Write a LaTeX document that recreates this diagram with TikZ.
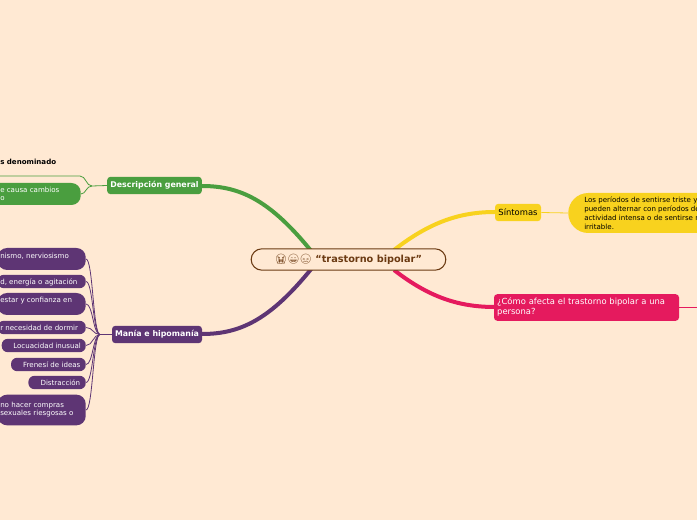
\documentclass[tikz,border=0pt]{standalone}
\usepackage{fontspec}
\setmainfont{DejaVu Sans}
\newfontfamily\emo{Noto Emoji}
\definecolor{bg}{HTML}{FFE9D3}
\definecolor{grn}{HTML}{4A9E3F}
\definecolor{pur}{HTML}{5E3574}
\definecolor{yel}{HTML}{F8D21E}
\definecolor{pnk}{HTML}{E51A5E}
\definecolor{brn}{HTML}{6B3A12}
\begin{document}
\begin{tikzpicture}[x=0.75pt,y=-0.75pt,
  box/.style={rounded corners=2.5pt,inner sep=0pt,font=\fontsize{6.3}{7.5}\selectfont},
  pill/.style={rounded corners=7pt,inner sep=0pt,fill=pur,text=white,font=\fontsize{5.3}{7}\selectfont,align=left},
  spill/.style={pill,rounded corners=4.5pt,minimum height=10pt},
  thin/.style={line width=0.6pt}]
\useasboundingbox (0,0) rectangle (697,520);
\fill[bg] (0,0) rectangle (697,520);
\clip (0,0) rectangle (697,520);
\draw[grn,line width=3pt] (312,252) .. controls (270,200) and (240,186) .. (202,186);
\draw[pur,line width=3pt] (312,268) .. controls (270,320) and (240,334) .. (202,334);
\draw[yel,line width=3pt] (394,250) .. controls (430,222) and (460,212) .. (495,212);
\draw[pnk,line width=3pt] (394,270) .. controls (430,298) and (460,307) .. (495,307);
\draw[pnk,thin] (679,307) -- (697,307);
\node[draw=brn,line width=0.8pt,fill=bg,rounded corners=8pt,minimum width=146pt,minimum height=16pt,font=\bfseries\fontsize{7.3}{9}\selectfont,text=brn] (center) at (348.5,259.5) {{\emo 😭😄😖} “trastorno bipolar”};
\node[box,fill=grn,text=white,font=\bfseries\fontsize{5.9}{7}\selectfont,minimum width=71pt,minimum height=13pt] (dg) at (154.5,185.5) {Descripción general};
\node[anchor=west,inner sep=0pt,font=\bfseries\fontsize{5.3}{6}\selectfont] (g1) at (0,162) {s denominado};
\node[pill,fill=grn,minimum width=70pt,minimum height=16.5pt,anchor=east] (g2) at (81,194) {};
\node[anchor=west,inner sep=0pt,text=white,font=\fontsize{5.3}{6.5}\selectfont,align=left] at (0,194) {e causa cambios\\o};
\draw[grn,thin] (dg.west) -- (92,186) .. controls (86,186) and (86,176) .. (80,176) -- (0,176);
\draw[grn,thin] (92,186) .. controls (86,186) and (86,194) .. (81,194);
\node[box,fill=pur,text=white,font=\bfseries\fontsize{5.9}{7}\selectfont,minimum width=67.5pt,minimum height=13pt] (mh) at (157,334.5) {Manía e hipomanía};
\node[pill,minimum width=66pt,minimum height=16.5pt,anchor=east] (p1) at (86,259) {};
\node[anchor=west,inner sep=0pt,text=white,font=\fontsize{5.3}{6.5}\selectfont] at (0,256) {nismo, nerviosismo};
\node[spill,minimum width=66pt,anchor=east] (p2) at (86,281.5) {};
\node[anchor=west,inner sep=0pt,text=white,font=\fontsize{5.3}{6.5}\selectfont] at (0,282) {d, energía o agitación};
\node[pill,minimum width=66pt,minimum height=16.5pt,anchor=east] (p3) at (86,304) {};
\node[anchor=west,inner sep=0pt,text=white,font=\fontsize{5.3}{6.5}\selectfont] at (0,301) {estar y confianza en};
\node[spill,minimum width=66pt,anchor=east] (p4) at (86,327.5) {};
\node[anchor=west,inner sep=0pt,text=white,font=\fontsize{5.3}{6.5}\selectfont] at (0,328) {r necesidad de dormir};
\node[spill,minimum width=63pt,anchor=east] (p5) at (86,345.5) {\hspace*{5pt}Locuacidad inusual};
\node[spill,minimum width=56pt,anchor=east] (p6) at (86,364.5) {\hspace*{5pt}Frenesí de ideas};
\node[spill,minimum width=43pt,anchor=east] (p7) at (86,382.5) {\hspace*{5pt}Distracción};
\node[pill,minimum width=66pt,minimum height=23pt,anchor=east] (p8) at (86,410) {};
\node[anchor=west,inner sep=0pt,text=white,font=\fontsize{5.3}{6.5}\selectfont,align=left] at (0,409.5) {no hacer compras\\ sexuales riesgosas o};
\coordinate (mj) at (100,334.5);
\draw[pur,thin] (mh.west) -- (mj);
\foreach \n in {p1,p2,p3,p4,p5,p6,p7,p8}
  \draw[pur,thin] (mj) .. controls (93,334.5) and (93,0|-\n.east) .. (\n.east);
\node[box,fill=yel,minimum width=34.5pt,minimum height=13pt] (sin) at (518,212.5) {Síntomas};
\node[rounded corners=15pt,fill=yel,minimum width=120pt,minimum height=30pt,anchor=west,inner sep=0pt] (s1) at (568,213) {};
\node[anchor=west,inner sep=0pt,font=\fontsize{5.3}{6.7}\selectfont,align=left] at (584,213) {Los períodos de sentirse triste y\\pueden alternar con períodos de\\actividad intensa o de sentirse m\\irritable.};
\draw[yel,thin] (sin.east) -- (s1.west);
\node[box,fill=pnk,text=white,minimum width=138.75pt,minimum height=20pt,align=left,text width=134pt] (ca) at (586.5,307.5) {¿Cómo afecta el trastorno bipolar a una\\persona?};
\end{tikzpicture}
\end{document}
